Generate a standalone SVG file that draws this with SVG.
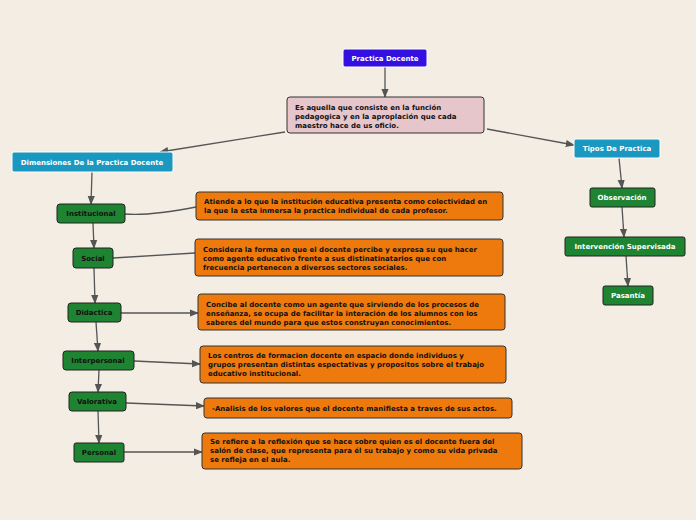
<svg xmlns="http://www.w3.org/2000/svg" width="696" height="520" viewBox="0 0 696 520">
<defs>
<marker id="a" viewBox="0 0 10 10" refX="9" refY="5" markerWidth="7" markerHeight="7" orient="auto"><path d="M0,1 L10,5 L0,9 z" fill="#555"/></marker>
<style>
text{font-family:"DejaVu Sans",Verdana,sans-serif;font-weight:bold;font-size:7px;fill:#111}
.w{fill:#fff;text-anchor:middle}
.g rect{fill:#1e8432;stroke:#222;stroke-width:1}
.o rect{fill:#ee7a0e;stroke:#333;stroke-width:1}
.b rect{fill:#1a98c0;stroke:#fff;stroke-width:1}
#conn path{fill:none;stroke:#555;stroke-width:1.3}
#conn .ar{marker-end:url(#a)}
</style>
</defs>
<rect width="696" height="520" fill="#f3ede3"/>
<g id="conn">
<path class="ar" d="M385,67 L385,97"/>
<path class="ar" d="M285,132 L160,152"/>
<path class="ar" d="M487,129 L574,145"/>
<path class="ar" d="M92,172 L91,204"/>
<path class="ar" d="M93,223 L94,248"/>
<path class="ar" d="M94,268 L95,303"/>
<path class="ar" d="M96,322 L98,351"/>
<path class="ar" d="M99,370 L98,392"/>
<path class="ar" d="M98,411 L99,443"/>
<path d="M125,214 Q150,216 196,207"/>
<path d="M113,258 L195,253"/>
<path class="ar" d="M121,313 L198,313"/>
<path class="ar" d="M134,361 L200,364"/>
<path class="ar" d="M126,403 L204,406"/>
<path class="ar" d="M124,452 L202,452"/>
<path class="ar" d="M619,158 L622,188"/>
<path class="ar" d="M622,207 L624,237"/>
<path class="ar" d="M626,256 L628,286"/>
</g>
<g id="practica"><rect x="343" y="49" width="84" height="18" rx="2" fill="#3410e0" stroke="#fff"/><text class="w" x="385" y="61">Practica Docente</text></g>
<g id="definicion"><rect x="287" y="97" width="197" height="36" rx="3" fill="#e6c6ca" stroke="#333"/><text x="295" y="110">Es aquella que consiste en la función</text><text x="295" y="119">pedagogica y en la aproplación que cada</text><text x="295" y="128">maestro hace de us oficio.</text></g>
<g id="dimensiones" class="b"><rect x="12" y="152" width="161" height="20" rx="2"/><text class="w" x="92" y="165">Dimensiones De la Practica Docente</text></g>
<g id="tipos" class="b"><rect x="574" y="139" width="86" height="19" rx="2"/><text class="w" x="617" y="151">Tipos De Practica</text></g>
<g id="observacion" class="g"><rect x="590" y="188" width="65" height="19" rx="2" stroke="#fff"/><text class="w" x="622" y="200">Observación</text></g>
<g id="intervencion" class="g"><rect x="565" y="237" width="120" height="19" rx="2"/><text class="w" x="625" y="249">Intervención Supervisada</text></g>
<g id="pasantia" class="g"><rect x="603" y="286" width="50" height="19" rx="2"/><text class="w" x="628" y="298">Pasantía</text></g>
<g id="institucional" class="g"><rect x="57" y="204" width="68" height="19" rx="3"/><text class="w" x="91" y="216" style="fill:#111">Institucional</text></g>
<g id="social" class="g"><rect x="73" y="248" width="40" height="20" rx="3"/><text class="w" x="93" y="261" style="fill:#111">Social</text></g>
<g id="didactica" class="g"><rect x="68" y="303" width="53" height="19" rx="3"/><text class="w" x="94" y="315" style="fill:#111">Didactica</text></g>
<g id="interpersonal" class="g"><rect x="63" y="351" width="71" height="19" rx="3"/><text class="w" x="98" y="363" style="fill:#111">Interpersonal</text></g>
<g id="valorativa" class="g"><rect x="69" y="392" width="57" height="19" rx="3"/><text class="w" x="97" y="404" style="fill:#111">Valorativa</text></g>
<g id="personal" class="g"><rect x="74" y="443" width="50" height="19" rx="2" stroke="#fff"/><text class="w" x="99" y="455" style="fill:#111">Personal</text></g>
<g id="o1" class="o"><rect x="196" y="192" width="307" height="28" rx="3"/><text x="204" y="204">Atiende a lo que la institución educativa presenta como colectividad en</text><text x="204" y="213">la que la esta inmersa la practica individual de cada profesor.</text></g>
<g id="o2" class="o"><rect x="195" y="239" width="308" height="37" rx="3"/><text x="203" y="252">Considera la forma en que el docente percibe y expresa su que hacer</text><text x="203" y="261">como agente educativo frente a sus distinatinatarios que con</text><text x="203" y="270">frecuencia pertenecen a diversos sectores sociales.</text></g>
<g id="o3" class="o"><rect x="198" y="294" width="307" height="36" rx="3"/><text x="206" y="307">Concibe al docente como un agente que sirviendo de los procesos de</text><text x="206" y="316">enseñanza, se ocupa de facilitar la interación de los alumnos con los</text><text x="206" y="325">saberes del mundo para que estos construyan conocimientos.</text></g>
<g id="o4" class="o"><rect x="200" y="346" width="306" height="37" rx="3"/><text x="208" y="358">Los centros de formacion docente en espacio donde individuos y</text><text x="208" y="367">grupos presentan distintas espectativas y propositos sobre el trabajo</text><text x="208" y="376">educativo institucional.</text></g>
<g id="o5" class="o"><rect x="204" y="398" width="308" height="20" rx="3"/><text x="212" y="411">-Analisis de los valores que el docente manifiesta a traves de sus actos.</text></g>
<g id="o6" class="o"><rect x="202" y="433" width="320" height="36" rx="3"/><text x="210" y="444">Se refiere a la reflexión que se hace sobre quien es el docente fuera del</text><text x="210" y="453">salón de clase, que representa para él su trabajo y como su vida privada</text><text x="210" y="462">se refleja en el aula.</text></g>
</svg>
